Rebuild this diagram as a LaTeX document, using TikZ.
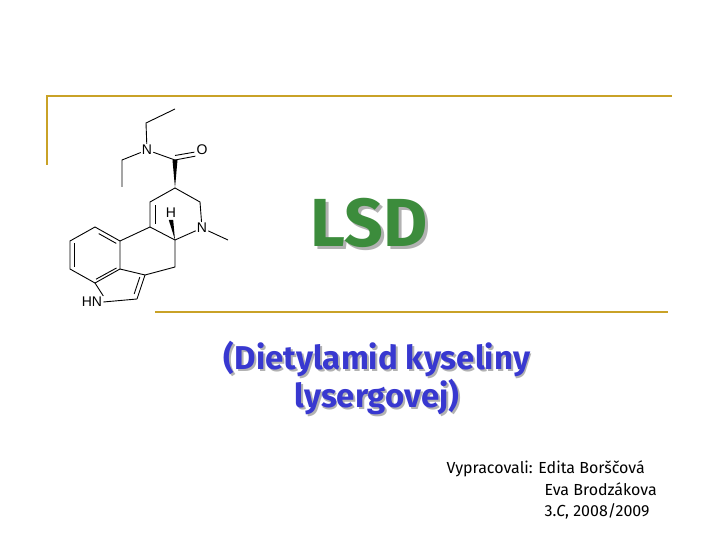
\documentclass[tikz,border=0pt]{standalone}
\usepackage{fontspec}
\usetikzlibrary{calc}
\setmainfont{Fira Sans}
\newfontfamily\molfont{Liberation Sans}
\definecolor{gold}{HTML}{C9A227}
\definecolor{lsdgreen}{HTML}{3C8C3C}
\definecolor{subblue}{HTML}{3838D0}
\newcommand\shadowtxt[3]{\makebox[0pt][l]{\hspace{#3}\raisebox{-#3}{\textcolor{black!30}{#2}}}\textcolor{#1}{#2}}
\begin{document}
\begin{tikzpicture}[x=1pt,y=-1pt,
  rule/.style={draw=gold,line width=1.6pt},
  bond/.style={line width=0.9pt},
  atom/.style={font=\molfont\fontsize{14}{14}\selectfont,inner sep=1pt,fill=white},
  wedge/.style={fill=black},
  cred/.style={anchor=base west,font=\fontsize{16}{16}\selectfont}]
\useasboundingbox (0,0) rectangle (720,540);
\fill[white] (0,0) rectangle (720,540);
% gold rules
\coordinate (r1) at (47,165); \coordinate (r2) at (47,96); \coordinate (r3) at (672,96);
\draw[rule] (r1) -- (r2) -- (r3);
\coordinate (r4) at (155,312); \coordinate (r5) at (668,312);
\draw[rule] (r4) -- (r5);
% molecule atoms
\coordinate (T) at (95,227); \coordinate (UR) at (120,241); \coordinate (LR) at (120,269);
\coordinate (B) at (95,283); \coordinate (LL) at (70,269); \coordinate (UL) at (70,241);
\coordinate (C2) at (137,299); \coordinate (C3) at (145,275); \coordinate (C4) at (175,267);
\coordinate (C5) at (175,240); \coordinate (C10) at (150,227); \coordinate (C9) at (150,202);
\coordinate (C8) at (175,188); \coordinate (C7) at (200,202);
\coordinate (Me) at (228,240); \coordinate (CO) at (175,160);
\coordinate (E1) at (146,123); \coordinate (E2) at (175,109);
\coordinate (E3) at (122,160); \coordinate (E4) at (122,187);
\coordinate (Hp) at (171,220);
\node[atom] (N1) at (92,302) {HN};
\node[atom] (N6) at (202,228) {N};
\node[atom] (Na) at (147,150) {N};
\node[atom] (O) at (202,150) {O};
\node[atom] (H) at (171,213) {H};
% bonds
\draw[bond] (T)--(UR)--(LR)--(B)--(LL)--(UL)--cycle;
\draw[bond] ($(T)!0.15!(UR)+(0,4.5)$) -- ($(T)!0.85!(UR)+(0,4.5)$);
\draw[bond] (LR)--(C3);
\draw[bond] ($(UL)+(4,2)$) -- ($(LL)+(4,-2)$);
\draw[bond] ($(LR)+(-3.5,-1)$) -- ($(B)+(1,-3.8)$);
\draw[bond] (B) -- (N1.north east);
\draw[bond] (N1.east) -- (C2);
\draw[bond] (C2) -- (C3);
\draw[bond] ($(C2)!0.15!(C3)+(-4,-1.5)$) -- ($(C2)!0.85!(C3)+(-4,-1.5)$);
\draw[bond] (C3)--(C4)--(C5)--(C10)--(UR);
\draw[bond] (C10)--(C9)--(C8)--(C7)--(N6)--(C5);
\draw[bond] ($(C10)+(5,-3)$) -- ($(C9)+(5,3)$);
\draw[bond] (N6)--(Me);
\fill[wedge] (C8) -- ($(CO)+(-2.5,0)$) -- ($(CO)+(2.5,0)$) -- cycle;
\fill[wedge] (C5) -- ($(Hp)+(-2.2,0)$) -- ($(Hp)+(2.2,0)$) -- cycle;
\draw[bond] (CO)--(Na);
\draw[bond] (CO)--(O.south west);
\draw[bond] ($(CO)+(0,-4.5)$)--($(O.south west)+(-1,-4)$);
\draw[bond] (Na)--(E1)--(E2);
\draw[bond] (Na)--(E3)--(E4);
% texts
\node[font=\bfseries\fontsize{68}{68}\selectfont] (lsd) at (369,224) {\shadowtxt{lsdgreen}{LSD}{3pt}};
\node[align=center,font=\bfseries\fontsize{33}{38}\selectfont] (sub) at (377,379) {\shadowtxt{subblue}{(Dietylamid kyseliny}{2pt}\\\shadowtxt{subblue}{lysergovej)}{2pt}};
\node[cred] (c1) at (443,473) {Vypracovali: Edita Borščová};
\node[cred] (c2) at (541,495) {Eva Brodzákova};
\node[cred] (c3) at (541,516) {3.\textit{C}, 2008/2009};
\end{tikzpicture}
\end{document}
